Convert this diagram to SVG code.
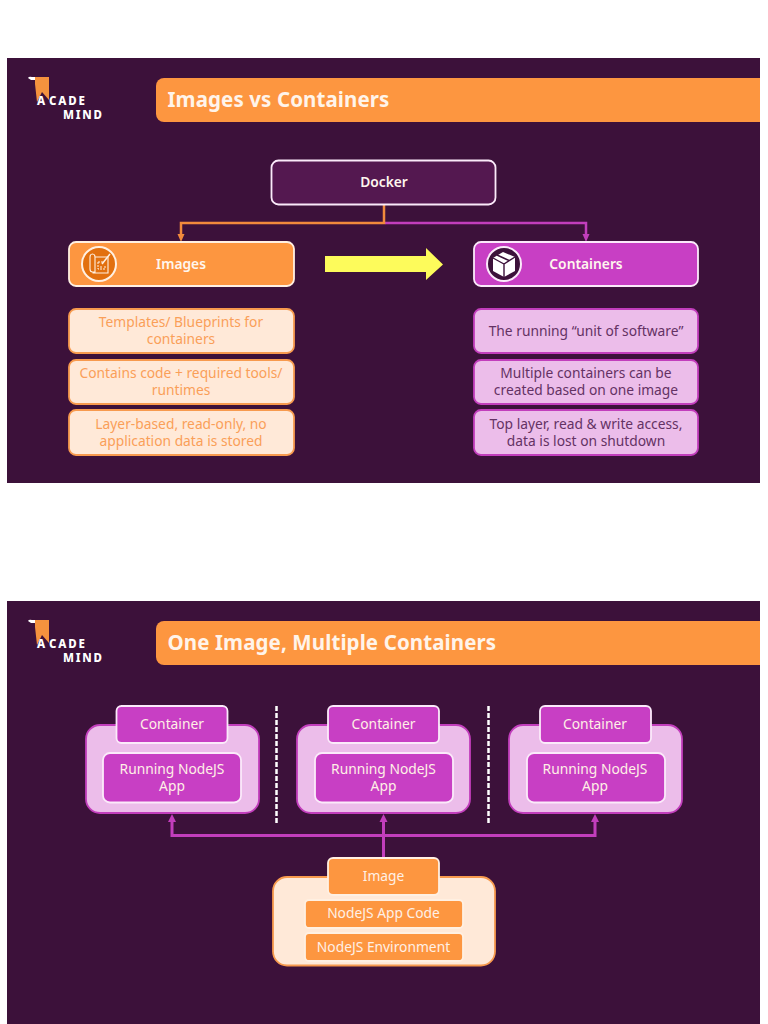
<svg xmlns="http://www.w3.org/2000/svg" width="768" height="1024" viewBox="0 0 768 1024">
<style>
text{font-family:"Noto Sans","Open Sans",sans-serif;text-anchor:middle;font-size:13.800px}
.bg{fill:#3c113a}
.band{fill:#fd9640}
.title{font-size:20.500px;font-weight:700;fill:#fff4ea;text-anchor:start;letter-spacing:.1px}
.logo{font-size:11.500px;font-weight:800;fill:#fff;letter-spacing:1.800px;text-anchor:start}
.or{fill:#fd9640;stroke:#fff0e2;stroke-width:1.800}
.pu{fill:#c83fc4;stroke:#fbeafa;stroke-width:1.800}
.lo{fill:#ffe9d8;stroke:#f79a4e;stroke-width:1.800}
.lp{fill:#ecbdea;stroke:#c23ebc;stroke-width:1.800}
.tw{fill:#fff0e6}
.tb{font-weight:600;fill:#fff6ee}
.to{fill:#fa9f58}
.tp{fill:#643264}
.cono{fill:none;stroke:#f28a3c;stroke-width:2.500}
.conp{fill:none;stroke:#c23ebc;stroke-width:2.500}
.conp3{fill:none;stroke:#c23ebc;stroke-width:3}
</style>
<defs>
<g id="logo">
<path d="M7 1H21V24L14 16L9 26L7 8Z" fill="#f5923e"/>
<path d="M0 2Q1 0 4 1H7V4H3Z" fill="#fff"/>
<text class="logo" x="9" y="29">A</text>
<text class="logo" x="21" y="29">CADE</text>
<text class="logo" x="35" y="43">MIND</text>
</g>
</defs>
<rect width="768" height="1024" fill="#fff"/>

<g id="slide1">
<rect class="bg" x="7" y="58" width="753" height="425"/>
<use href="#logo" x="28" y="76"/>
<path class="band" d="M164 78H760V122H164A8 8 0 0 1 156 114V86A8 8 0 0 1 164 78Z"/>
<text class="title" x="167.500" y="107">Images vs Containers</text>
</g>

<g id="connectors1">
<path class="conp" d="M385 223H586V236"/>
<path class="cono" d="M384 205V223H181V236"/>
<path d="M177.500 234H184.500L181 242Z" fill="#f28a3c"/>
<path d="M582.500 234H589.500L586 242Z" fill="#c23ebc"/>
<path id="big-arrow" d="M325 256H426V248L443 264.500L426 280V272H325Z" fill="#fdfb5b"/>
</g>

<g id="docker">
<rect x="271.500" y="160.500" width="224" height="44" rx="7" fill="#541850" stroke="#fbeafa" stroke-width="1.800"/>
<text class="tb" x="384" y="187">Docker</text>
</g>
<g id="images">
<rect class="or" x="69" y="242" width="225" height="44" rx="7"/>
<circle cx="99" cy="264" r="17" fill="#e2700f" stroke="#fff0e2" stroke-width="2"/>
<path d="M90 257Q90 254 92.500 254Q95 254 95 257V272H92.500Q90 272 90 269ZM95 257H108V273H92.500" fill="none" stroke="#fff0e2" stroke-width="1.100"/>
<path d="M98 262H103M98 262V269H105V265M101 266V269" fill="none" stroke="#fff0e2" stroke-width="1" stroke-dasharray="2 1"/>
<path d="M102 264L110 254" stroke="#fff0e2" stroke-width="1.500"/>
<text class="tb" x="181" y="269">Images</text>
</g>
<g id="containers">
<rect class="pu" x="474" y="242" width="224" height="44" rx="7"/>
<circle cx="504" cy="264" r="17" fill="#3c113a" stroke="#fbeafa" stroke-width="2"/>
<path d="M503 252L515 257V271L504 277L493 271V258Z" fill="#fff"/>
<path d="M493 258L504 264L515 257M504 264V277M497 255L509 260.500" fill="none" stroke="#3c113a" stroke-width="1.400"/>
<text class="tb" x="586" y="269">Containers</text>
</g>
<g id="img-1"><rect class="lo" x="69" y="309" width="225" height="44" rx="7"/><text class="to" x="181" y="327">Templates/ Blueprints for</text><text class="to" x="181" y="344">containers</text></g>
<g id="img-2"><rect class="lo" x="69" y="360" width="225" height="44" rx="7"/><text class="to" x="181" y="378">Contains code + required tools/</text><text class="to" x="181" y="395">runtimes</text></g>
<g id="img-3"><rect class="lo" x="69" y="410" width="225" height="45" rx="7"/><text class="to" x="181" y="428.500">Layer-based, read-only, no</text><text class="to" x="181" y="445.500">application data is stored</text></g>
<g id="con-1"><rect class="lp" x="474" y="309" width="224" height="44" rx="7"/><text class="tp" x="586" y="336">The running “unit of software”</text></g>
<g id="con-2"><rect class="lp" x="474" y="360" width="224" height="44" rx="7"/><text class="tp" x="586" y="378">Multiple containers can be</text><text class="tp" x="586" y="395">created based on one image</text></g>
<g id="con-3"><rect class="lp" x="474" y="410" width="224" height="45" rx="7"/><text class="tp" x="586" y="428.500">Top layer, read &amp; write access,</text><text class="tp" x="586" y="445.500">data is lost on shutdown</text></g>

<g id="slide2">
<rect class="bg" x="7" y="601" width="753" height="423"/>
<use href="#logo" x="28" y="619"/>
<path class="band" d="M164 621H760V665H164A8 8 0 0 1 156 657V629A8 8 0 0 1 164 621Z"/>
<text class="title" x="167.500" y="650">One Image, Multiple Containers</text>
</g>

<g id="connectors2">
<path class="conp3" d="M172 820V835.500H595V820M383.500 820V857"/>
<path d="M168 822H176L172 814Z" fill="#c23ebc"/>
<path d="M379.500 822H387.500L383.500 814Z" fill="#c23ebc"/>
<path d="M591 822H599L595 814Z" fill="#c23ebc"/>
<path d="M276.500 706V825M488.500 706V825" fill="none" stroke="#fff" stroke-width="2.500" stroke-dasharray="5 2"/>
</g>

<g id="stack-1">
<rect class="lp" x="86" y="725" width="173" height="88" rx="14"/>
<rect class="pu" x="116.500" y="706" width="111" height="37" rx="5"/><text class="tw" x="172" y="729">Container</text>
<rect class="pu" x="103" y="753" width="138" height="49.500" rx="7"/><text class="tw" x="172" y="774">Running NodeJS</text><text class="tw" x="172" y="791">App</text>
</g>
<g id="stack-2">
<rect class="lp" x="297" y="725" width="173" height="88" rx="14"/>
<rect class="pu" x="328" y="706" width="111" height="37" rx="5"/><text class="tw" x="383.500" y="729">Container</text>
<rect class="pu" x="315" y="753" width="138" height="49.500" rx="7"/><text class="tw" x="383.500" y="774">Running NodeJS</text><text class="tw" x="383.500" y="791">App</text>
</g>
<g id="stack-3">
<rect class="lp" x="509" y="725" width="173" height="88" rx="14"/>
<rect class="pu" x="540" y="706" width="111" height="37" rx="5"/><text class="tw" x="595" y="729">Container</text>
<rect class="pu" x="527" y="753" width="138" height="49.500" rx="7"/><text class="tw" x="595" y="774">Running NodeJS</text><text class="tw" x="595" y="791">App</text>
</g>
<g id="image-stack">
<rect class="lo" x="273" y="877" width="222" height="88.500" rx="14"/>
<rect class="or" x="328" y="858" width="111" height="37" rx="5"/><text class="tw" x="383.500" y="881">Image</text>
<rect class="or" x="305" y="900" width="158" height="28" rx="4"/><text class="tw" x="383.500" y="918">NodeJS App Code</text>
<rect class="or" x="305" y="933" width="158" height="28" rx="4"/><text class="tw" x="383.500" y="952">NodeJS Environment</text>
</g>
</svg>
